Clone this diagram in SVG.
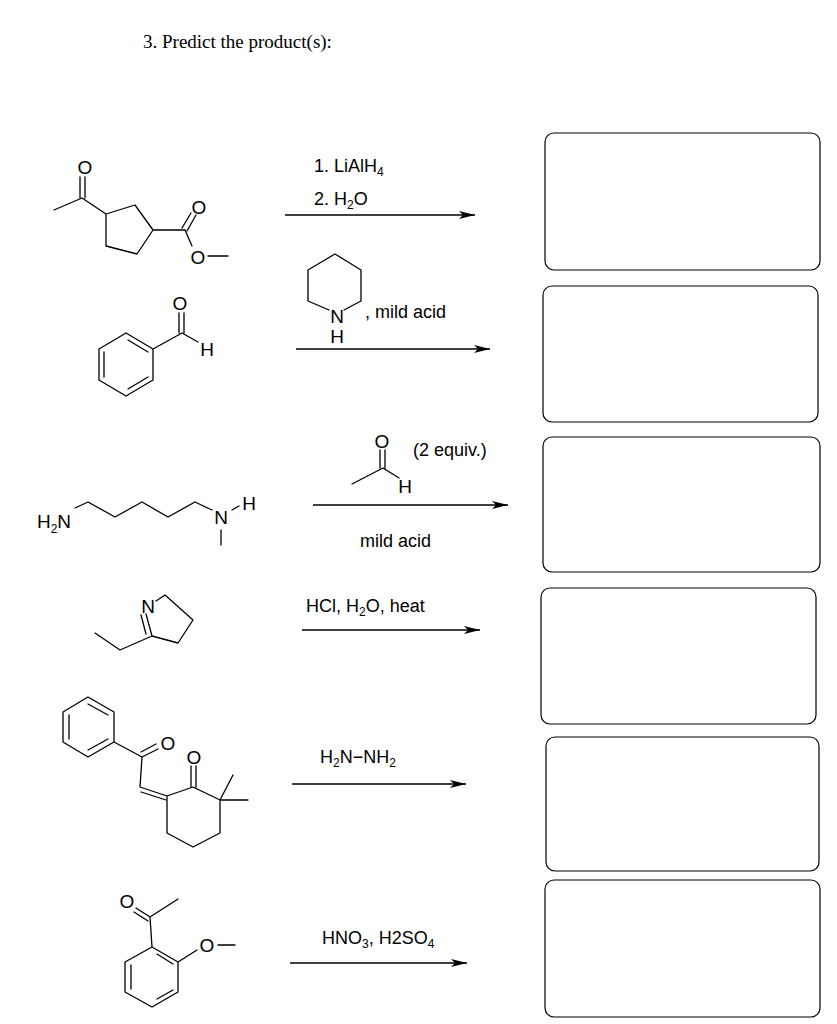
<svg xmlns="http://www.w3.org/2000/svg" width="837" height="1024" viewBox="0 0 837 1024">
<defs><marker id="ah" markerWidth="16" markerHeight="8" refX="16" refY="4" orient="auto" markerUnits="userSpaceOnUse"><path d="M0,0 L16,4 L0,8 L4,4 Z" fill="#000"/></marker></defs>
<style>
.b{stroke:#000;stroke-width:1.3;fill:none;stroke-linecap:round;stroke-linejoin:round}
.a{font-family:"Liberation Sans",Arial,sans-serif;font-size:19px;fill:#000;text-anchor:middle}
.r{font-family:"Liberation Sans",Arial,sans-serif;font-size:18px;fill:#000}
.s{font-size:12px}
.box{fill:#fff;stroke:#000;stroke-width:1.2}
.arr{stroke:#000;stroke-width:1.3;fill:none}
</style>
<rect width="837" height="1024" fill="#fff"/>
<text x="143" y="48" font-family="Liberation Serif,serif" font-size="19">3. Predict the product(s):</text>

<g id="mol1">
<path class="b" d="M106,214 L135,205 L153,230 L137,254 L106,246 Z M54,210 L82,198 L106,214 M153,230 L185,230 M185,230 L192,246 M208,256 L228,256"/>
<path class="b" d="M80,198 L80,177 M85,198 L85,177 M187,231 L196,215 M182,228 L191,213"/>
<text class="a" x="85" y="174">O</text><text class="a" x="199" y="214">O</text><text class="a" x="198" y="264">O</text>
</g>
<g id="mol2">
<path class="b" d="M126,333 L153,349 L153,380 L126,396 L99,380 L99,349 Z M128,340 L148,352 M148,377 L128,389 M104,377 L104,352 M153,349 L182,333 L198,342"/>
<path class="b" d="M179,333 L179,313 M184,333 L184,313"/>
<text class="a" x="180" y="310">O</text><text class="a" x="207" y="356">H</text>
</g>
<g id="mol3">
<text class="a" x="54" y="528">H<tspan class="s" dy="5">2</tspan><tspan dy="-5">N</tspan></text>
<path class="b" d="M75,508 L88,502 L115,517 L142,502 L168,517 L195,502 L212,510 M232,510 L239,506 M221,530 L221,545"/>
<text class="a" x="221" y="524">N</text><text class="a" x="249" y="510">H</text>
</g>
<g id="mol4">
<path class="b" d="M156,601 L165,595 L193,620 L178,643 L152,636 L120,650 L95,633 M152,636 L146,614 M146,634 L141,615"/>
<text class="a" x="148" y="613">N</text>
</g>
<g id="mol5">
<path class="b" d="M88,697 L114,712 L114,742 L88,757 L63,742 L63,712 Z M88,704 L108,715 M108,739 L88,750 M69,739 L69,715 M114,742 L142,757 L140,787 L167,796 M167,796 L193,787 L220,800 L220,833 L193,847 L167,833 Z M191,787 L191,766 M196,787 L196,766 M220,800 L233,775 M220,800 L248,800"/>
<path class="b" d="M142,757 L158,749 M141,752 L156,744 M141,792 L166,800"/>
<text class="a" x="168" y="750">O</text><text class="a" x="194" y="764">O</text>
</g>
<g id="mol6">
<path class="b" d="M152,947 L178,962 L178,992 L152,1007 L125,992 L125,962 Z M157,954 L173,964 M173,990 L157,999 M131,989 L131,965 M152,947 L150,917 L178,899 M150,917 L136,908 M148,921 L134,912 M178,962 L197,950 M218,945 L235,945"/>
<text class="a" x="127" y="908">O</text><text class="a" x="207" y="952">O</text>
</g>
<g id="reagents">
<text class="r" x="314" y="172">1. LiAlH<tspan class="s" dy="4">4</tspan></text>
<text class="r" x="314" y="205">2. H<tspan class="s" dy="4">2</tspan><tspan dy="-4">O</tspan></text>
<path class="b" d="M344,310 L361,301 L361,270 L335,254 L308,270 L308,301 L329,310"/>
<text class="a" x="337" y="323">N</text><text class="a" x="337" y="343">H</text>
<text class="r" x="365" y="318">, mild acid</text>
<path class="b" d="M352,484 L383,468 L399,478 M380,468 L380,450 M385,468 L385,450"/>
<text class="a" x="382" y="448">O</text><text class="a" x="405" y="493">H</text>
<text class="r" x="413" y="456">(2 equiv.)</text>
<text class="r" x="360" y="547">mild acid</text>
<text class="r" x="306" y="612">HCl, H<tspan class="s" dy="4">2</tspan><tspan dy="-4">O, heat</tspan></text>
<text class="r" x="320" y="763">H<tspan class="s" dy="4">2</tspan><tspan dy="-4">N−NH</tspan><tspan class="s" dy="4">2</tspan></text>
<text class="r" x="322" y="944">HNO<tspan class="s" dy="4">3</tspan><tspan dy="-4">, H2SO</tspan><tspan class="s" dy="4">4</tspan></text>
</g>
<g id="connectors">
<line class="arr" x1="285" y1="215" x2="475" y2="215" marker-end="url(#ah)"/>
<line class="arr" x1="296" y1="349" x2="490" y2="349" marker-end="url(#ah)"/>
<line class="arr" x1="313" y1="505" x2="508" y2="505" marker-end="url(#ah)"/>
<line class="arr" x1="302" y1="630" x2="480" y2="630" marker-end="url(#ah)"/>
<line class="arr" x1="292" y1="784" x2="466" y2="784" marker-end="url(#ah)"/>
<line class="arr" x1="290" y1="963" x2="467" y2="963" marker-end="url(#ah)"/>
</g>
<g id="boxes">
<rect class="box" x="545" y="133" width="275" height="137" rx="9"/>
<rect class="box" x="543" y="286" width="275" height="136" rx="9"/>
<rect class="box" x="543" y="437" width="277" height="135" rx="9"/>
<rect class="box" x="541" y="588" width="275" height="136" rx="9"/>
<rect class="box" x="546" y="737" width="273" height="134" rx="9"/>
<rect class="box" x="545" y="880" width="275" height="137" rx="9"/>
</g>
</svg>
